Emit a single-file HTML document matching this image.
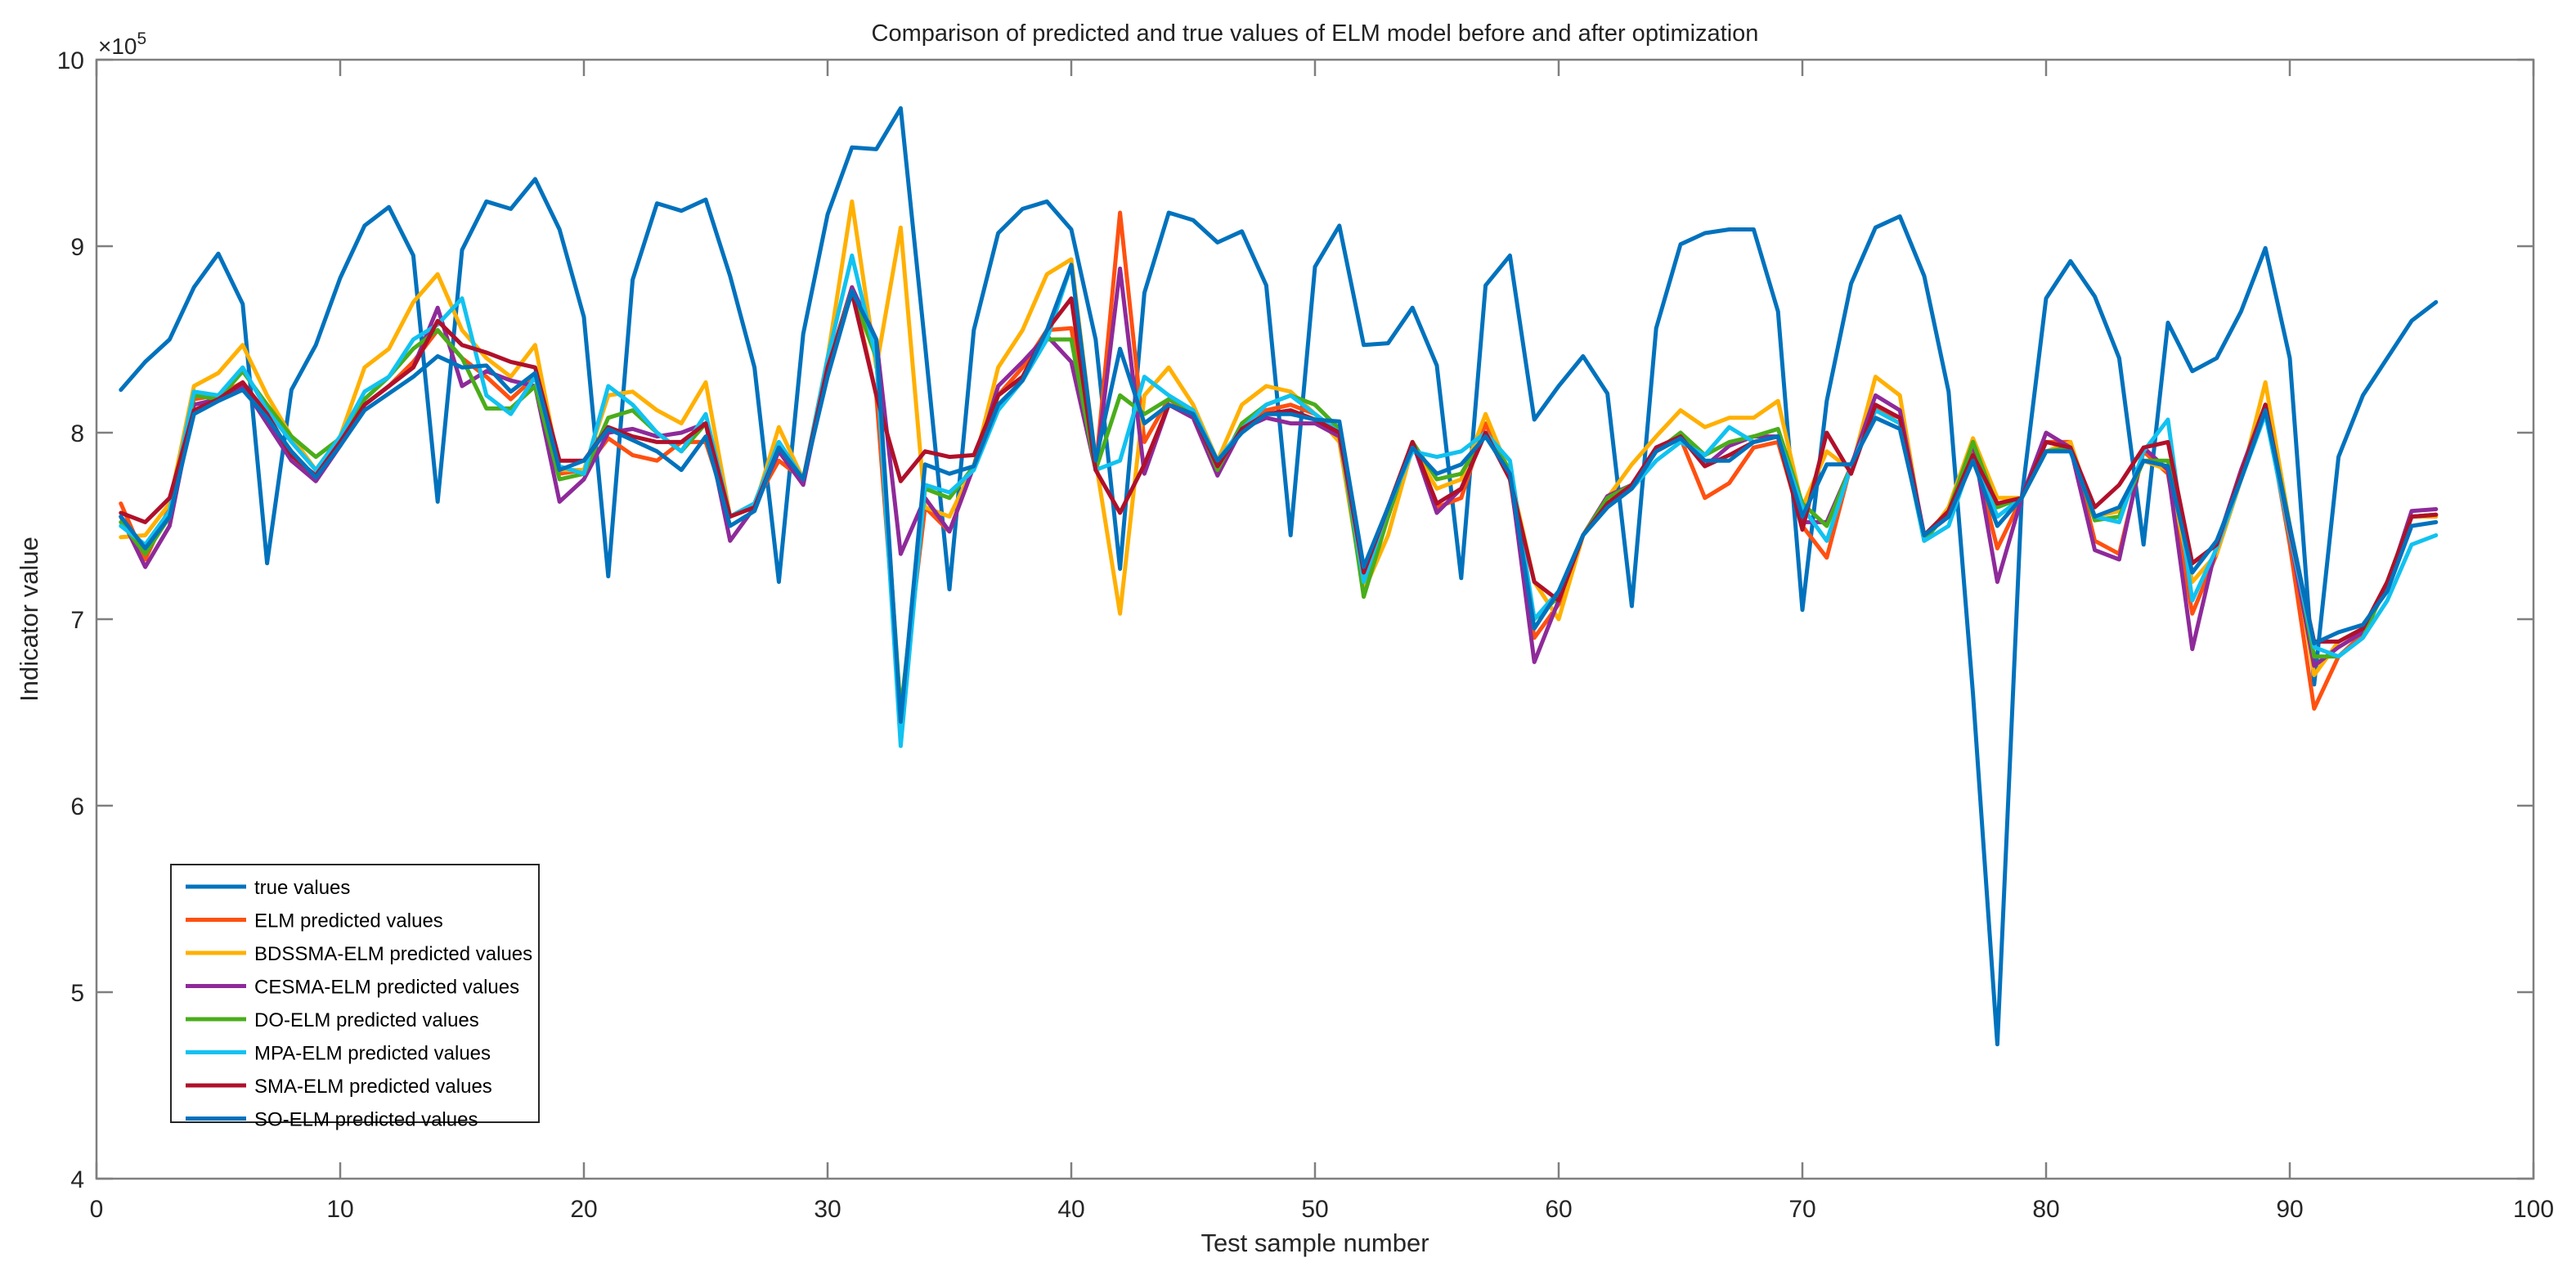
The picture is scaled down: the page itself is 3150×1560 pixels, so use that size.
<!DOCTYPE html>
<html><head><meta charset="utf-8"><style>
html,body{margin:0;padding:0;background:#fff;}
svg{display:block;font-family:"Liberation Sans",Arial,sans-serif;}
</style></head><body>
<svg id="chart" width="3150" height="1560" viewBox="0 0 3150 1560">
<rect x="0" y="0" width="3150" height="1560" fill="#fff"/>
<text x="1608" y="50" text-anchor="middle" font-size="29" fill="#222">Comparison of predicted and true values of ELM model before and after optimization</text>
<text x="1608" y="1530" text-anchor="middle" font-size="31" fill="#262626">Test sample number</text>
<text x="0" y="0" transform="translate(46,757) rotate(-90)" text-anchor="middle" font-size="31" fill="#262626">Indicator value</text>
<text x="120" y="66" font-size="28" fill="#262626">×10<tspan dy="-12" font-size="21">5</tspan></text>
<g id="ticks"></g>
<g id="series"></g>
<rect x="118" y="73" width="2980" height="1368" fill="none" stroke="#7f7f7f" stroke-width="2.5"/>
<g id="legend"></g>
</svg>
<script>
const xTicks=[0,10,20,30,40,50,60,70,80,90,100];
const yTicks=[4,5,6,7,8,9,10];
const seriesNames=["true values","ELM predicted values","BDSSMA-ELM predicted values","CESMA-ELM predicted values","DO-ELM predicted values","MPA-ELM predicted values","SMA-ELM predicted values","SO-ELM predicted values"];
const seriesColors=["#0072BD","#FF5010","#FFB000","#8E2A9A","#4AAD1A","#11C2F0","#B0102A","#0072BD"];
const trueVals=[8.23,8.38,8.50,8.78,8.96,8.69,7.30,8.23,8.47,8.83,9.11,9.21,8.95,7.63,8.98,9.24,9.20,9.36,9.09,8.62,7.23,8.82,9.23,9.19,9.25,8.84,8.35,7.20,8.53,9.17,9.53,9.52,9.74,8.47,7.16,8.55,9.07,9.20,9.24,9.09,8.50,7.27,8.75,9.18,9.14,9.02,9.08,8.79,7.45,8.89,9.11,8.47,8.48,8.67,8.36,7.22,8.79,8.95,8.07,8.25,8.41,8.21,7.07,8.56,9.01,9.07,9.09,9.09,8.65,7.05,8.17,8.80,9.10,9.16,8.84,8.22,6.60,4.72,7.65,8.72,8.92,8.73,8.40,7.40,8.59,8.33,8.40,8.65,8.99,8.40,6.65,7.87,8.20,8.40,8.60,8.70];
const elmVals=[7.62,7.32,7.60,8.18,8.20,8.27,8.10,7.85,7.76,7.95,8.15,8.25,8.38,8.55,8.40,8.30,8.18,8.30,7.78,7.80,7.97,7.88,7.85,7.95,7.95,7.55,7.62,7.85,7.75,8.35,8.78,8.20,6.50,7.60,7.47,7.82,8.20,8.35,8.55,8.56,7.80,9.18,7.95,8.18,8.10,7.85,8.02,8.12,8.15,8.10,8.00,7.20,7.55,7.95,7.60,7.65,8.05,7.75,6.90,7.08,7.45,7.62,7.72,7.90,7.97,7.65,7.73,7.92,7.95,7.50,7.33,7.83,8.13,8.08,7.45,7.55,7.90,7.38,7.65,7.95,7.95,7.42,7.35,7.90,7.78,7.03,7.35,7.75,8.15,7.40,6.52,6.80,6.92,7.18,7.55,7.56];
const bdssmaVals=[7.44,7.45,7.62,8.25,8.32,8.47,8.20,7.98,7.80,7.98,8.35,8.45,8.70,8.85,8.55,8.40,8.30,8.47,7.80,7.80,8.20,8.22,8.12,8.05,8.27,7.55,7.60,8.03,7.75,8.40,9.24,8.35,9.10,7.60,7.55,7.82,8.35,8.55,8.85,8.93,7.85,7.03,8.20,8.35,8.15,7.85,8.15,8.25,8.22,8.10,7.95,7.15,7.45,7.92,7.70,7.75,8.10,7.78,7.20,7.00,7.45,7.65,7.83,7.98,8.12,8.03,8.08,8.08,8.17,7.60,7.90,7.80,8.30,8.20,7.42,7.60,7.97,7.65,7.65,7.90,7.95,7.55,7.58,7.85,7.80,7.20,7.35,7.75,8.27,7.50,6.70,6.88,6.95,7.20,7.55,7.55];
const cesmaVals=[7.55,7.28,7.50,8.15,8.18,8.25,8.05,7.85,7.74,7.93,8.15,8.25,8.35,8.67,8.25,8.33,8.28,8.25,7.63,7.75,8.00,8.02,7.98,8.00,8.05,7.42,7.60,7.90,7.72,8.35,8.78,8.50,7.35,7.65,7.47,7.82,8.25,8.38,8.52,8.38,7.80,8.88,7.78,8.15,8.08,7.77,8.02,8.08,8.05,8.05,7.98,7.25,7.55,7.95,7.57,7.70,8.00,7.78,6.77,7.10,7.45,7.66,7.72,7.92,7.98,7.82,7.93,7.98,7.98,7.52,7.52,7.82,8.20,8.12,7.45,7.55,7.95,7.20,7.65,8.00,7.92,7.37,7.32,7.92,7.80,6.84,7.40,7.80,8.15,7.45,6.75,6.85,6.93,7.18,7.58,7.59];
const doVals=[7.52,7.35,7.55,8.20,8.18,8.33,8.15,7.98,7.87,7.97,8.18,8.30,8.45,8.55,8.40,8.13,8.13,8.25,7.75,7.78,8.08,8.12,8.00,7.90,8.05,7.55,7.62,7.95,7.75,8.35,8.76,8.40,6.50,7.70,7.65,7.82,8.20,8.30,8.50,8.50,7.80,8.20,8.10,8.18,8.12,7.80,8.05,8.15,8.20,8.15,8.02,7.12,7.55,7.95,7.75,7.78,8.00,7.80,7.00,7.12,7.45,7.65,7.72,7.90,8.00,7.88,7.95,7.98,8.02,7.62,7.50,7.82,8.12,8.05,7.42,7.58,7.95,7.60,7.65,7.90,7.92,7.53,7.55,7.85,7.85,7.30,7.40,7.78,8.15,7.50,6.80,6.80,6.90,7.20,7.55,7.56];
const mpaVals=[7.50,7.40,7.58,8.22,8.20,8.35,8.12,7.95,7.80,7.98,8.22,8.30,8.50,8.58,8.72,8.20,8.10,8.30,7.82,7.78,8.25,8.15,8.00,7.90,8.10,7.55,7.62,7.95,7.75,8.40,8.95,8.40,6.32,7.72,7.68,7.80,8.12,8.28,8.50,8.90,7.80,7.85,8.30,8.20,8.12,7.85,8.02,8.15,8.20,8.10,8.00,7.20,7.60,7.90,7.87,7.90,8.00,7.85,7.00,7.15,7.45,7.60,7.70,7.85,7.95,7.88,8.03,7.95,7.98,7.60,7.42,7.82,8.12,8.05,7.42,7.50,7.88,7.55,7.65,7.90,7.90,7.55,7.52,7.90,8.07,7.10,7.38,7.75,8.10,7.45,6.85,6.80,6.90,7.10,7.40,7.45];
const smaVals=[7.57,7.52,7.65,8.12,8.18,8.27,8.10,7.88,7.77,7.95,8.15,8.25,8.35,8.60,8.47,8.43,8.38,8.35,7.85,7.85,8.03,7.98,7.95,7.95,8.05,7.55,7.60,7.92,7.75,8.35,8.75,8.20,7.74,7.90,7.87,7.88,8.20,8.30,8.55,8.72,7.80,7.57,7.83,8.15,8.10,7.82,8.02,8.10,8.12,8.07,8.00,7.25,7.60,7.95,7.62,7.70,8.00,7.75,7.20,7.10,7.45,7.62,7.72,7.92,7.98,7.82,7.88,7.95,7.98,7.48,8.00,7.78,8.15,8.08,7.45,7.58,7.88,7.62,7.65,7.95,7.92,7.60,7.72,7.92,7.95,7.30,7.40,7.78,8.15,7.48,6.88,6.88,6.95,7.20,7.55,7.56];
const soVals=[7.55,7.38,7.55,8.10,8.17,8.23,8.08,7.90,7.76,7.93,8.12,8.21,8.30,8.41,8.35,8.36,8.22,8.32,7.80,7.85,8.02,7.96,7.90,7.80,7.98,7.50,7.58,7.92,7.75,8.30,8.76,8.50,6.45,7.83,7.78,7.82,8.15,8.28,8.55,8.90,7.85,8.45,8.05,8.15,8.10,7.85,8.00,8.10,8.10,8.07,8.06,7.28,7.60,7.92,7.78,7.83,7.98,7.78,6.95,7.15,7.45,7.60,7.70,7.90,7.97,7.85,7.85,7.95,7.98,7.55,7.83,7.83,8.08,8.02,7.45,7.55,7.85,7.50,7.65,7.90,7.90,7.55,7.60,7.85,7.82,7.25,7.42,7.75,8.12,7.50,6.87,6.93,6.97,7.15,7.50,7.52];
const allSeries=[trueVals,elmVals,bdssmaVals,cesmaVals,doVals,mpaVals,smaVals,soVals];
const seriesKeys=["true","elm","bdssma-elm","cesma-elm","do-elm","mpa-elm","sma-elm","so-elm"];

const L=118,R=3098,T=73,B=1441;
const xS=v=>L+(v-0)/(100-0)*(R-L);
const yS=v=>B-(v-4)/(10-4)*(B-T);
const NS="http://www.w3.org/2000/svg";
function mk(tag,attrs){const e=document.createElementNS(NS,tag);for(const k in attrs)e.setAttribute(k,attrs[k]);return e;}

const tg=document.getElementById('ticks');
xTicks.forEach(t=>{
  const x=xS(t);
  const a=mk('line',{x1:x,y1:B,x2:x,y2:B-20,stroke:'#7f7f7f','stroke-width':2.5});
  
  
  tg.appendChild(a);
  const b=mk('line',{x1:x,y1:T,x2:x,y2:T+20,stroke:'#7f7f7f','stroke-width':2.5});
  
  
  tg.appendChild(b);
  const lb=mk('text',{x:x,y:B+47,'text-anchor':'middle','font-size':30,fill:'#262626'});
  lb.textContent=t;
  
  
  tg.appendChild(lb);
});
yTicks.forEach(t=>{
  const y=yS(t);
  const a=mk('line',{x1:L,y1:y,x2:L+20,y2:y,stroke:'#7f7f7f','stroke-width':2.5});
  
  
  tg.appendChild(a);
  const b=mk('line',{x1:R,y1:y,x2:R-20,y2:y,stroke:'#7f7f7f','stroke-width':2.5});
  
  
  tg.appendChild(b);
  const lb=mk('text',{x:L-15,y:y+11,'text-anchor':'end','font-size':30,fill:'#262626'});
  lb.textContent=t;
  
  
  tg.appendChild(lb);
});

const sg=document.getElementById('series');
allSeries.forEach((vals,i)=>{
  const pts=vals.map((v,j)=>xS(j+1).toFixed(1)+','+yS(v).toFixed(1)).join(' ');
  const pl=mk('polyline',{points:pts,fill:'none',stroke:seriesColors[i],'stroke-width':5,'stroke-linejoin':'round','stroke-linecap':'round'});
  
  
  sg.appendChild(pl);
});

const lg=document.getElementById('legend');
const box=mk('rect',{x:209,y:1057,width:450,height:315,fill:'#fff',stroke:'#262626','stroke-width':2});


lg.appendChild(box);
seriesNames.forEach((n,i)=>{
  const y=1084+i*40.5;
  const ln=mk('line',{x1:227,y1:y,x2:301,y2:y,stroke:seriesColors[i],'stroke-width':5});
  
  
  lg.appendChild(ln);
  const tx=mk('text',{x:311,y:y+9,'font-size':24,fill:'#000'});
  tx.textContent=n;
  
  
  lg.appendChild(tx);
});
</script>
</body></html>
